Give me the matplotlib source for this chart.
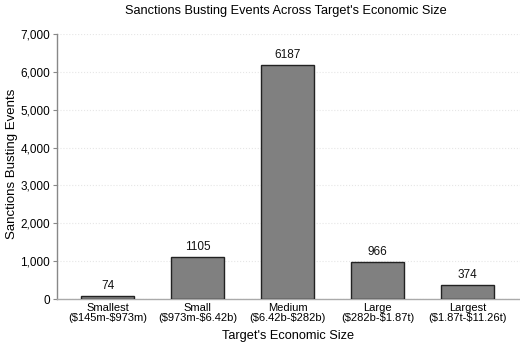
import matplotlib
matplotlib.use("Agg")
import matplotlib.pyplot as plt

categories = ["Smallest\n(\\$145m-\\$973m)", "Small\n(\\$973m-\\$6.42b)", "Medium\n(\\$6.42b-\\$282b)",
              "Large\n(\\$282b-\\$1.87t)", "Largest\n(\\$1.87t-\\$11.26t)"]
values = [74, 1105, 6187, 966, 374]
yticks = [0, 1000, 2000, 3000, 4000, 5000, 6000, 7000]

plt.rcParams['font.family'] = ['Liberation Sans', 'DejaVu Sans']
fig = plt.figure(figsize=(5.2, 3.44), dpi=100)
ax = fig.add_axes([0.1096, 0.1308, 0.8904, 0.7702])
x = list(range(len(values)))
bars = ax.bar(x, values, width=0.59, color='#808080', edgecolor='#222222', linewidth=1.0, zorder=3)
for xi, v in zip(x, values):
    ax.text(xi, v + 110, str(v), ha='center', va='bottom', fontsize=8.5, color='#111111')
ax.set_xlim(-0.561, 4.583)
ax.set_ylim(0, 7000)
ax.set_yticks(yticks)
ax.set_yticklabels([f"{t:,}" for t in yticks], fontsize=8.5)
ax.set_xticks(x)
ax.set_xticklabels(categories, fontsize=8, linespacing=1.0)
ax.tick_params(axis='x', length=0, pad=3)
ax.tick_params(axis='y', length=3, color='#888888', width=0.8, pad=2)
ax.grid(axis='y', color='#e6e6e6', linestyle=':', linewidth=0.8, zorder=0)
for s in ['top', 'right']:
    ax.spines[s].set_visible(False)
ax.spines['left'].set_color('#888888')
ax.spines['bottom'].set_color('#aaaaaa')
ax.spines['left'].set_linewidth(1.0)
ax.spines['bottom'].set_linewidth(1.0)
fig.text(12 / 520, 1 - 164 / 344, "Sanctions Busting Events", rotation=90,
         fontsize=9.5, ha='center', va='center')
fig.text(288 / 520, 1 - 336 / 344, "Target's Economic Size", fontsize=9.2,
         ha='center', va='center')
fig.suptitle("Sanctions Busting Events Across Target's Economic Size", fontsize=9.2, x=0.55, y=0.985)
fig.savefig("out.png", dpi=100)
